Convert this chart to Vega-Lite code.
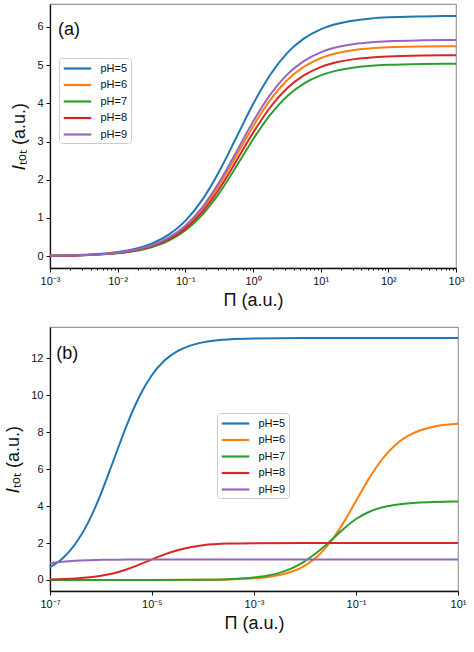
{
  "$schema": "https://vega.github.io/schema/vega-lite/v6.json",
  "padding": {"left": 4, "top": 3, "right": 12, "bottom": 0},
  "config": {
    "font": "Liberation Sans",
    "view": {"stroke": "#999999", "strokeWidth": 1.2},
    "axis": {
      "grid": false,
      "domainColor": "#111111",
      "domainWidth": 1.3,
      "tickColor": "#111111",
      "labelColor": "#111111",
      "titleColor": "#111111",
      "labelFontSize": 11,
      "titleFontSize": 18,
      "titleFontWeight": "normal",
      "tickSize": 4,
      "labelPadding": 3
    },
    "legend": {
      "labelFontSize": 11,
      "labelColor": "#111111",
      "symbolType": "M-2.5,0H2.5",
      "symbolStrokeWidth": 2.2,
      "symbolSize": 121,
      "symbolOffset": 8,
      "fillColor": "#ffffff",
      "strokeColor": "#cccccc",
      "cornerRadius": 3,
      "padding": 3.5,
      "rowPadding": 4.5,
      "labelOffset": 16
    }
  },
  "datasets": {
    "a": [
      {"Pi": 0.001, "I": 0.011, "pH": "pH=5"}, {"Pi": 0.003162, "I": 0.034, "pH": "pH=5"}, {"Pi": 0.01, "I": 0.106, "pH": "pH=5"},
      {"Pi": 0.01778, "I": 0.187, "pH": "pH=5"}, {"Pi": 0.03162, "I": 0.325, "pH": "pH=5"}, {"Pi": 0.05623, "I": 0.555, "pH": "pH=5"},
      {"Pi": 0.1, "I": 0.924, "pH": "pH=5"}, {"Pi": 0.1778, "I": 1.473, "pH": "pH=5"}, {"Pi": 0.3162, "I": 2.216, "pH": "pH=5"},
      {"Pi": 0.5623, "I": 3.091, "pH": "pH=5"}, {"Pi": 1, "I": 3.975, "pH": "pH=5"}, {"Pi": 1.778, "I": 4.735, "pH": "pH=5"},
      {"Pi": 3.162, "I": 5.307, "pH": "pH=5"}, {"Pi": 5.623, "I": 5.693, "pH": "pH=5"}, {"Pi": 10, "I": 5.936, "pH": "pH=5"},
      {"Pi": 17.78, "I": 6.082, "pH": "pH=5"}, {"Pi": 31.62, "I": 6.167, "pH": "pH=5"}, {"Pi": 56.23, "I": 6.22, "pH": "pH=5"},
      {"Pi": 100, "I": 6.25, "pH": "pH=5"}, {"Pi": 316.2, "I": 6.275, "pH": "pH=5"}, {"Pi": 1000, "I": 6.285, "pH": "pH=5"},

      {"Pi": 0.001, "I": 0.009, "pH": "pH=6"}, {"Pi": 0.003162, "I": 0.028, "pH": "pH=6"}, {"Pi": 0.01, "I": 0.087, "pH": "pH=6"},
      {"Pi": 0.01778, "I": 0.153, "pH": "pH=6"}, {"Pi": 0.03162, "I": 0.267, "pH": "pH=6"}, {"Pi": 0.05623, "I": 0.457, "pH": "pH=6"},
      {"Pi": 0.1, "I": 0.764, "pH": "pH=6"}, {"Pi": 0.1778, "I": 1.226, "pH": "pH=6"}, {"Pi": 0.3162, "I": 1.858, "pH": "pH=6"},
      {"Pi": 0.5623, "I": 2.616, "pH": "pH=6"}, {"Pi": 1, "I": 3.395, "pH": "pH=6"}, {"Pi": 1.778, "I": 4.078, "pH": "pH=6"},
      {"Pi": 3.162, "I": 4.598, "pH": "pH=6"}, {"Pi": 5.623, "I": 4.954, "pH": "pH=6"}, {"Pi": 10, "I": 5.179, "pH": "pH=6"},
      {"Pi": 17.78, "I": 5.315, "pH": "pH=6"}, {"Pi": 31.62, "I": 5.394, "pH": "pH=6"}, {"Pi": 56.23, "I": 5.44, "pH": "pH=6"},
      {"Pi": 100, "I": 5.466, "pH": "pH=6"}, {"Pi": 316.2, "I": 5.489, "pH": "pH=6"}, {"Pi": 1000, "I": 5.497, "pH": "pH=6"},

      {"Pi": 0.001, "I": 0.008, "pH": "pH=7"}, {"Pi": 0.003162, "I": 0.024, "pH": "pH=7"}, {"Pi": 0.01, "I": 0.076, "pH": "pH=7"},
      {"Pi": 0.01778, "I": 0.134, "pH": "pH=7"}, {"Pi": 0.03162, "I": 0.234, "pH": "pH=7"}, {"Pi": 0.05623, "I": 0.401, "pH": "pH=7"},
      {"Pi": 0.1, "I": 0.672, "pH": "pH=7"}, {"Pi": 0.1778, "I": 1.083, "pH": "pH=7"}, {"Pi": 0.3162, "I": 1.649, "pH": "pH=7"},
      {"Pi": 0.5623, "I": 2.338, "pH": "pH=7"}, {"Pi": 1, "I": 3.055, "pH": "pH=7"}, {"Pi": 1.778, "I": 3.691, "pH": "pH=7"},
      {"Pi": 3.162, "I": 4.181, "pH": "pH=7"}, {"Pi": 5.623, "I": 4.518, "pH": "pH=7"}, {"Pi": 10, "I": 4.732, "pH": "pH=7"},
      {"Pi": 17.78, "I": 4.862, "pH": "pH=7"}, {"Pi": 31.62, "I": 4.939, "pH": "pH=7"}, {"Pi": 56.23, "I": 4.982, "pH": "pH=7"},
      {"Pi": 100, "I": 5.007, "pH": "pH=7"}, {"Pi": 316.2, "I": 5.03, "pH": "pH=7"}, {"Pi": 1000, "I": 5.037, "pH": "pH=7"},

      {"Pi": 0.001, "I": 0.008, "pH": "pH=8"}, {"Pi": 0.003162, "I": 0.026, "pH": "pH=8"}, {"Pi": 0.01, "I": 0.082, "pH": "pH=8"},
      {"Pi": 0.01778, "I": 0.144, "pH": "pH=8"}, {"Pi": 0.03162, "I": 0.251, "pH": "pH=8"}, {"Pi": 0.05623, "I": 0.431, "pH": "pH=8"},
      {"Pi": 0.1, "I": 0.721, "pH": "pH=8"}, {"Pi": 0.1778, "I": 1.158, "pH": "pH=8"}, {"Pi": 0.3162, "I": 1.758, "pH": "pH=8"},
      {"Pi": 0.5623, "I": 2.481, "pH": "pH=8"}, {"Pi": 1, "I": 3.227, "pH": "pH=8"}, {"Pi": 1.778, "I": 3.884, "pH": "pH=8"},
      {"Pi": 3.162, "I": 4.386, "pH": "pH=8"}, {"Pi": 5.623, "I": 4.73, "pH": "pH=8"}, {"Pi": 10, "I": 4.948, "pH": "pH=8"},
      {"Pi": 17.78, "I": 5.08, "pH": "pH=8"}, {"Pi": 31.62, "I": 5.157, "pH": "pH=8"}, {"Pi": 56.23, "I": 5.202, "pH": "pH=8"},
      {"Pi": 100, "I": 5.227, "pH": "pH=8"}, {"Pi": 316.2, "I": 5.25, "pH": "pH=8"}, {"Pi": 1000, "I": 5.257, "pH": "pH=8"},

      {"Pi": 0.001, "I": 0.009, "pH": "pH=9"}, {"Pi": 0.003162, "I": 0.029, "pH": "pH=9"}, {"Pi": 0.01, "I": 0.091, "pH": "pH=9"},
      {"Pi": 0.01778, "I": 0.16, "pH": "pH=9"}, {"Pi": 0.03162, "I": 0.279, "pH": "pH=9"}, {"Pi": 0.05623, "I": 0.478, "pH": "pH=9"},
      {"Pi": 0.1, "I": 0.797, "pH": "pH=9"}, {"Pi": 0.1778, "I": 1.277, "pH": "pH=9"}, {"Pi": 0.3162, "I": 1.932, "pH": "pH=9"},
      {"Pi": 0.5623, "I": 2.715, "pH": "pH=9"}, {"Pi": 1, "I": 3.516, "pH": "pH=9"}, {"Pi": 1.778, "I": 4.214, "pH": "pH=9"},
      {"Pi": 3.162, "I": 4.745, "pH": "pH=9"}, {"Pi": 5.623, "I": 5.106, "pH": "pH=9"}, {"Pi": 10, "I": 5.335, "pH": "pH=9"},
      {"Pi": 17.78, "I": 5.472, "pH": "pH=9"}, {"Pi": 31.62, "I": 5.553, "pH": "pH=9"}, {"Pi": 56.23, "I": 5.599, "pH": "pH=9"},
      {"Pi": 100, "I": 5.626, "pH": "pH=9"}, {"Pi": 316.2, "I": 5.649, "pH": "pH=9"}, {"Pi": 1000, "I": 5.657, "pH": "pH=9"}
    ],
    "b": [
      {"Pi": 1e-7, "I": 0.689, "pH": "pH=5"}, {"Pi": 1.778e-7, "I": 1.178, "pH": "pH=5"}, {"Pi": 3.162e-7, "I": 1.957, "pH": "pH=5"},
      {"Pi": 5.623e-7, "I": 3.118, "pH": "pH=5"}, {"Pi": 1e-6, "I": 4.679, "pH": "pH=5"}, {"Pi": 1.778e-6, "I": 6.51, "pH": "pH=5"},
      {"Pi": 3.162e-6, "I": 8.348, "pH": "pH=5"}, {"Pi": 5.623e-6, "I": 9.923, "pH": "pH=5"}, {"Pi": 1e-5, "I": 11.1, "pH": "pH=5"},
      {"Pi": 1.778e-5, "I": 11.896, "pH": "pH=5"}, {"Pi": 3.162e-5, "I": 12.394, "pH": "pH=5"}, {"Pi": 5.623e-5, "I": 12.694, "pH": "pH=5"},
      {"Pi": 1e-4, "I": 12.868, "pH": "pH=5"}, {"Pi": 3.162e-4, "I": 13.026, "pH": "pH=5"}, {"Pi": 1e-3, "I": 13.076, "pH": "pH=5"},
      {"Pi": 1e-2, "I": 13.098, "pH": "pH=5"}, {"Pi": 0.1, "I": 13.1, "pH": "pH=5"}, {"Pi": 1, "I": 13.1, "pH": "pH=5"},
      {"Pi": 10, "I": 13.1, "pH": "pH=5"},

      {"Pi": 1e-7, "I": 0.0, "pH": "pH=6"}, {"Pi": 1e-6, "I": 0.0001, "pH": "pH=6"}, {"Pi": 1e-5, "I": 0.0009, "pH": "pH=6"},
      {"Pi": 1e-4, "I": 0.0085, "pH": "pH=6"}, {"Pi": 3.162e-4, "I": 0.027, "pH": "pH=6"}, {"Pi": 1e-3, "I": 0.085, "pH": "pH=6"},
      {"Pi": 1.778e-3, "I": 0.149, "pH": "pH=6"}, {"Pi": 3.162e-3, "I": 0.262, "pH": "pH=6"}, {"Pi": 5.623e-3, "I": 0.455, "pH": "pH=6"},
      {"Pi": 0.01, "I": 0.777, "pH": "pH=6"}, {"Pi": 0.01778, "I": 1.29, "pH": "pH=6"}, {"Pi": 0.03162, "I": 2.054, "pH": "pH=6"},
      {"Pi": 0.05623, "I": 3.078, "pH": "pH=6"}, {"Pi": 0.1, "I": 4.275, "pH": "pH=6"}, {"Pi": 0.1778, "I": 5.472, "pH": "pH=6"},
      {"Pi": 0.3162, "I": 6.496, "pH": "pH=6"}, {"Pi": 0.5623, "I": 7.259, "pH": "pH=6"}, {"Pi": 1, "I": 7.773, "pH": "pH=6"},
      {"Pi": 1.778, "I": 8.095, "pH": "pH=6"}, {"Pi": 3.162, "I": 8.288, "pH": "pH=6"}, {"Pi": 5.623, "I": 8.401, "pH": "pH=6"},
      {"Pi": 10, "I": 8.465, "pH": "pH=6"},

      {"Pi": 1e-7, "I": 0.0, "pH": "pH=7"}, {"Pi": 1e-6, "I": 0.0001, "pH": "pH=7"}, {"Pi": 1e-5, "I": 0.0013, "pH": "pH=7"},
      {"Pi": 1e-4, "I": 0.0133, "pH": "pH=7"}, {"Pi": 3.162e-4, "I": 0.0417, "pH": "pH=7"}, {"Pi": 1e-3, "I": 0.129, "pH": "pH=7"},
      {"Pi": 1.778e-3, "I": 0.224, "pH": "pH=7"}, {"Pi": 3.162e-3, "I": 0.383, "pH": "pH=7"}, {"Pi": 5.623e-3, "I": 0.637, "pH": "pH=7"},
      {"Pi": 0.01, "I": 1.014, "pH": "pH=7"}, {"Pi": 0.01778, "I": 1.522, "pH": "pH=7"}, {"Pi": 0.03162, "I": 2.117, "pH": "pH=7"},
      {"Pi": 0.05623, "I": 2.75, "pH": "pH=7"}, {"Pi": 0.1, "I": 3.3, "pH": "pH=7"}, {"Pi": 0.1778, "I": 3.68, "pH": "pH=7"},
      {"Pi": 0.3162, "I": 3.92, "pH": "pH=7"}, {"Pi": 0.5623, "I": 4.06, "pH": "pH=7"}, {"Pi": 1, "I": 4.145, "pH": "pH=7"},
      {"Pi": 1.778, "I": 4.195, "pH": "pH=7"}, {"Pi": 3.162, "I": 4.222, "pH": "pH=7"}, {"Pi": 5.623, "I": 4.238, "pH": "pH=7"},
      {"Pi": 10, "I": 4.246, "pH": "pH=7"},

      {"Pi": 1e-7, "I": 0.025, "pH": "pH=8"}, {"Pi": 3.162e-7, "I": 0.076, "pH": "pH=8"}, {"Pi": 1e-6, "I": 0.222, "pH": "pH=8"},
      {"Pi": 1.778e-6, "I": 0.364, "pH": "pH=8"}, {"Pi": 3.162e-6, "I": 0.567, "pH": "pH=8"}, {"Pi": 5.623e-6, "I": 0.826, "pH": "pH=8"},
      {"Pi": 1e-5, "I": 1.111, "pH": "pH=8"}, {"Pi": 1.778e-5, "I": 1.385, "pH": "pH=8"}, {"Pi": 3.162e-5, "I": 1.61, "pH": "pH=8"},
      {"Pi": 5.623e-5, "I": 1.77, "pH": "pH=8"}, {"Pi": 1e-4, "I": 1.88, "pH": "pH=8"}, {"Pi": 3.162e-4, "I": 1.97, "pH": "pH=8"},
      {"Pi": 1e-3, "I": 1.99, "pH": "pH=8"}, {"Pi": 1e-2, "I": 2.0, "pH": "pH=8"}, {"Pi": 0.1, "I": 2.0, "pH": "pH=8"},
      {"Pi": 1, "I": 2.0, "pH": "pH=8"}, {"Pi": 10, "I": 2.0, "pH": "pH=8"},

      {"Pi": 1e-7, "I": 0.91, "pH": "pH=9"}, {"Pi": 1.778e-7, "I": 0.988, "pH": "pH=9"}, {"Pi": 3.162e-7, "I": 1.038, "pH": "pH=9"},
      {"Pi": 5.623e-7, "I": 1.068, "pH": "pH=9"}, {"Pi": 1e-6, "I": 1.086, "pH": "pH=9"}, {"Pi": 1.778e-6, "I": 1.096, "pH": "pH=9"},
      {"Pi": 3.162e-6, "I": 1.102, "pH": "pH=9"}, {"Pi": 1e-5, "I": 1.108, "pH": "pH=9"}, {"Pi": 1e-4, "I": 1.11, "pH": "pH=9"},
      {"Pi": 1e-3, "I": 1.11, "pH": "pH=9"}, {"Pi": 1e-2, "I": 1.11, "pH": "pH=9"}, {"Pi": 0.1, "I": 1.11, "pH": "pH=9"},
      {"Pi": 1, "I": 1.11, "pH": "pH=9"}, {"Pi": 10, "I": 1.11, "pH": "pH=9"}
    ]
  },
  "spacing": 16,
  "resolve": {"scale": {"color": "independent"}, "legend": {"color": "independent"}},
  "vconcat": [
    {
      "width": 406,
      "height": 264,
      "layer": [
        {
          "data": {"name": "a"},
          "mark": {"type": "line", "strokeWidth": 2, "interpolate": "monotone"},
          "encoding": {
            "x": {
              "field": "Pi",
              "type": "quantitative",
              "scale": {"type": "log", "domain": [0.001, 1000]},
              "axis": {
                "title": "Π (a.u.)",
                "titlePadding": 5,
                "values": [0.001, 0.002, 0.003, 0.004, 0.005, 0.006, 0.007, 0.008, 0.009,
                           0.01, 0.02, 0.03, 0.04, 0.05, 0.06, 0.07, 0.08, 0.09,
                           0.1, 0.2, 0.3, 0.4, 0.5, 0.6, 0.7, 0.8, 0.9,
                           1, 2, 3, 4, 5, 6, 7, 8, 9,
                           10, 20, 30, 40, 50, 60, 70, 80, 90,
                           100, 200, 300, 400, 500, 600, 700, 800, 900, 1000],
                "labelExpr": "abs(log(datum.value)/LN10 - round(log(datum.value)/LN10)) < 0.001 ? '10' + replace(replace(replace(replace(replace(replace(replace(replace(replace('' + round(log(datum.value)/LN10), '-', '⁻'), '0', '⁰'), '1', '¹'), '2', '²'), '3', '³'), '4', '⁴'), '5', '⁵'), '6', '⁶'), '7', '⁷') : ''",
                "tickSize": {"condition": {"test": "abs(log(datum.value)/LN10 - round(log(datum.value)/LN10)) < 0.001", "value": 4}, "value": 2},
                "labelFlush": false,
                "labelOverlap": false
              }
            },
            "y": {
              "field": "I",
              "type": "quantitative",
              "scale": {"domain": [-0.31, 6.6], "nice": false, "zero": false},
              "axis": {"title": "𝐼ₜₒₜ (a.u.)", "values": [0, 1, 2, 3, 4, 5, 6], "titlePadding": 8}
            },
            "color": {
              "field": "pH",
              "type": "nominal",
              "scale": {
                "domain": ["pH=5", "pH=6", "pH=7", "pH=8", "pH=9"],
                "range": ["#1f77b4", "#ff7f0e", "#2ca02c", "#d62728", "#9467bd"]
              },
              "legend": {"title": null, "orient": "none", "legendX": 9, "legendY": 54}
            }
          }
        },
        {
          "data": {"values": [{"Pi": 0.00131, "I": 5.92, "label": "(a)"}]},
          "mark": {"type": "text", "align": "left", "baseline": "middle", "fontSize": 18, "color": "#111111"},
          "encoding": {
            "x": {"field": "Pi", "type": "quantitative"},
            "y": {"field": "I", "type": "quantitative"},
            "text": {"field": "label"}
          }
        }
      ]
    },
    {
      "width": 408,
      "height": 264,
      "layer": [
        {
          "data": {"name": "b"},
          "mark": {"type": "line", "strokeWidth": 2, "interpolate": "monotone"},
          "encoding": {
            "x": {
              "field": "Pi",
              "type": "quantitative",
              "scale": {"type": "log", "domain": [1e-7, 10]},
              "axis": {
                "title": "Π (a.u.)",
                "titlePadding": 5,
                "values": [1e-7, 1e-5, 0.001, 0.1, 10],
                "labelExpr": "'10' + replace(replace(replace(replace(replace(replace(replace(replace(replace('' + round(log(datum.value)/LN10), '-', '⁻'), '0', '⁰'), '1', '¹'), '2', '²'), '3', '³'), '4', '⁴'), '5', '⁵'), '6', '⁶'), '7', '⁷')",
                "labelFlush": false,
                "labelOverlap": false
              }
            },
            "y": {
              "field": "I",
              "type": "quantitative",
              "scale": {"domain": [-0.6, 13.7], "nice": false, "zero": false},
              "axis": {"title": "𝐼ₜₒₜ (a.u.)", "values": [0, 2, 4, 6, 8, 10, 12], "titlePadding": 8}
            },
            "color": {
              "field": "pH",
              "type": "nominal",
              "scale": {
                "domain": ["pH=5", "pH=6", "pH=7", "pH=8", "pH=9"],
                "range": ["#1f77b4", "#ff7f0e", "#2ca02c", "#d62728", "#9467bd"]
              },
              "legend": {"title": null, "orient": "none", "legendX": 167, "legendY": 86}
            }
          }
        },
        {
          "data": {"values": [{"Pi": 1.33e-7, "I": 12.22, "label": "(b)"}]},
          "mark": {"type": "text", "align": "left", "baseline": "middle", "fontSize": 18, "color": "#111111"},
          "encoding": {
            "x": {"field": "Pi", "type": "quantitative"},
            "y": {"field": "I", "type": "quantitative"},
            "text": {"field": "label"}
          }
        }
      ]
    }
  ]
}
